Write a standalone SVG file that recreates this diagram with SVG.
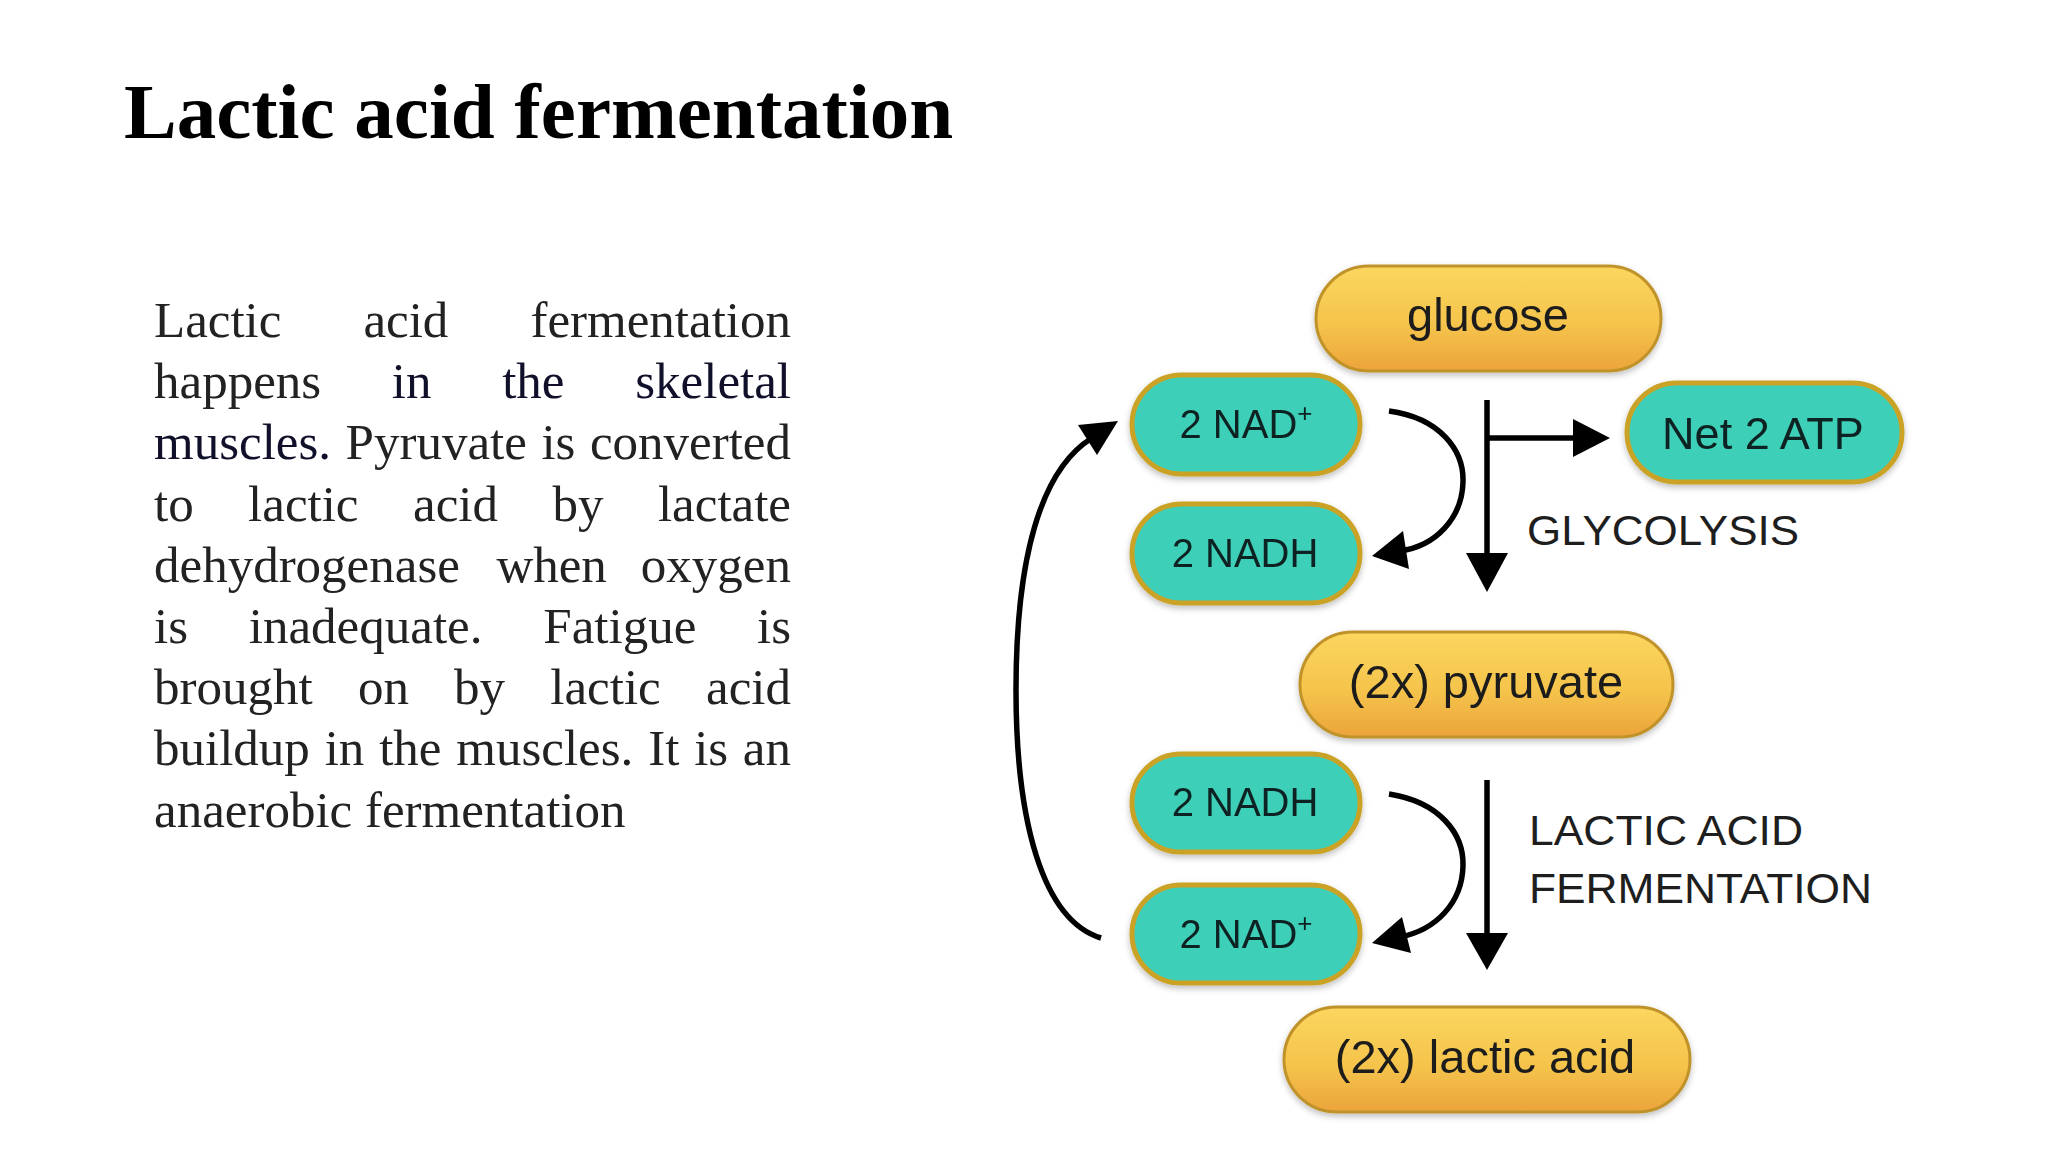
<svg xmlns="http://www.w3.org/2000/svg" width="2048" height="1152" viewBox="0 0 2048 1152">
<style>
.title{font-family:"Liberation Serif","Times New Roman",serif;font-weight:bold;font-size:79px;fill:#000}
.body{font-family:"Liberation Serif","Times New Roman",serif;font-size:51px;fill:#222}
.dk{fill:#10102a}
.gold{fill:url(#gg);stroke:#c0922a;stroke-width:3}
.teal{fill:#3ecfb7;stroke:#c9a226;stroke-width:5}
.pt{font-family:"Liberation Sans",Arial,sans-serif;font-size:47px;fill:#1a1a1a;text-anchor:middle}
.tt{font-family:"Liberation Sans",Arial,sans-serif;font-size:40px;fill:#102020;text-anchor:middle}
.atp{font-size:45px}
.sup{font-size:26px}
.lbl{font-family:"Liberation Sans",Arial,sans-serif;font-size:43px;fill:#1e1e1e}
.ln{fill:none;stroke:#000;stroke-width:5.5;stroke-linecap:butt}
.ah{fill:#000}
</style>
<defs>
<linearGradient id="gg" x1="0" y1="0" x2="0" y2="1">
<stop offset="0" stop-color="#fbd65e"/>
<stop offset="0.55" stop-color="#f5c44c"/>
<stop offset="1" stop-color="#eca43a"/>
</linearGradient>
<filter id="sh" x="-10%" y="-20%" width="120%" height="150%">
<feDropShadow dx="0" dy="3" stdDeviation="3" flood-color="#000" flood-opacity="0.25"/>
</filter>
</defs>
<rect width="2048" height="1152" fill="#fff"/>

<text class="title" x="124" y="138">Lactic acid fermentation</text>

<g id="body-text" class="body">
<text y="337"><tspan x="154">Lactic</tspan><tspan x="363.4">acid</tspan><tspan x="791" text-anchor="end">fermentation</tspan></text>
<text y="398.2"><tspan x="154">happens</tspan><tspan class="dk" x="391.8">in</tspan><tspan class="dk" x="502.2">the</tspan><tspan class="dk" x="791" text-anchor="end">skeletal</tspan></text>
<text y="459.4"><tspan class="dk" x="154">muscles.</tspan><tspan x="345.6">Pyruvate</tspan><tspan x="541.4">is</tspan><tspan x="791" text-anchor="end">converted</tspan></text>
<text y="520.6"><tspan x="154">to</tspan><tspan x="248.1">lactic</tspan><tspan x="413">acid</tspan><tspan x="552.4">by</tspan><tspan x="791" text-anchor="end">lactate</tspan></text>
<text y="581.8"><tspan x="154">dehydrogenase</tspan><tspan x="496.4">when</tspan><tspan x="791" text-anchor="end">oxygen</tspan></text>
<text y="643"><tspan x="154">is</tspan><tspan x="248.8">inadequate.</tspan><tspan x="543.3">Fatigue</tspan><tspan x="791" text-anchor="end">is</tspan></text>
<text y="704.2"><tspan x="154">brought</tspan><tspan x="357.9">on</tspan><tspan x="454.1">by</tspan><tspan x="550.3">lactic</tspan><tspan x="791" text-anchor="end">acid</tspan></text>
<text y="765.4"><tspan x="154">buildup</tspan><tspan x="324.7">in</tspan><tspan x="379.2">the</tspan><tspan x="456.3">muscles.</tspan><tspan x="648.2">It</tspan><tspan x="694.2">is</tspan><tspan x="791" text-anchor="end">an</tspan></text>
<text y="826.6" x="154">anaerobic fermentation</text>
</g>

<g id="connectors">
<line class="ln" x1="1487" y1="400" x2="1487" y2="556"/>
<polygon class="ah" points="1466,553 1508,553 1487,592"/>
<line class="ln" x1="1487" y1="438" x2="1576" y2="438"/>
<polygon class="ah" points="1573,419 1573,457 1610,438"/>
<path class="ln" d="M1389,411 C1440,418 1464,450 1463,482 C1462,518 1436,546 1400,551"/>
<polygon class="ah" points="1372,556 1403,531 1409,569"/>
<line class="ln" x1="1487" y1="780" x2="1487" y2="936"/>
<polygon class="ah" points="1466,933 1508,933 1487,970"/>
<path class="ln" d="M1389,794 C1440,802 1464,834 1463,866 C1462,903 1436,930 1400,937"/>
<polygon class="ah" points="1372,943 1402,917 1411,953"/>
<path class="ln" d="M1101,938 C1042,920 1016,820 1016,690 C1016,560 1040,470 1092,438"/>
<polygon class="ah" points="1118,421 1078,425 1097,455"/>
</g>

<g id="glucose" filter="url(#sh)">
<rect class="gold" x="1316" y="266" width="345" height="105" rx="52.5"/>
<text class="pt" x="1488" y="331">glucose</text>
</g>
<g id="nad-top" filter="url(#sh)">
<rect class="teal" x="1132" y="375" width="228" height="99" rx="49.5"/>
<text class="tt" x="1246" y="438">2 NAD<tspan class="sup" dy="-16">+</tspan></text>
</g>
<g id="nadh-top" filter="url(#sh)">
<rect class="teal" x="1132" y="504" width="228" height="99" rx="49.5"/>
<text class="tt" x="1245" y="567">2 NADH</text>
</g>
<g id="net-atp" filter="url(#sh)">
<rect class="teal" x="1627" y="383" width="275" height="99" rx="49.5"/>
<text class="tt atp" x="1763" y="449">Net 2 ATP</text>
</g>
<g id="glycolysis-label">
<text class="lbl" x="1527" y="545" textLength="272" lengthAdjust="spacingAndGlyphs">GLYCOLYSIS</text>
</g>
<g id="pyruvate" filter="url(#sh)">
<rect class="gold" x="1300" y="632" width="373" height="105" rx="52.5"/>
<text class="pt" x="1486" y="698">(2x) pyruvate</text>
</g>
<g id="nadh-bottom" filter="url(#sh)">
<rect class="teal" x="1132" y="754" width="228" height="98" rx="49"/>
<text class="tt" x="1245" y="816">2 NADH</text>
</g>
<g id="nad-bottom" filter="url(#sh)">
<rect class="teal" x="1132" y="885" width="228" height="98" rx="49"/>
<text class="tt" x="1246" y="948">2 NAD<tspan class="sup" dy="-16">+</tspan></text>
</g>
<g id="fermentation-label">
<text class="lbl" x="1529" y="845" textLength="274" lengthAdjust="spacingAndGlyphs">LACTIC ACID</text>
<text class="lbl" x="1529" y="903" textLength="343" lengthAdjust="spacingAndGlyphs">FERMENTATION</text>
</g>
<g id="lactic-acid" filter="url(#sh)">
<rect class="gold" x="1284" y="1007" width="406" height="105" rx="52.5"/>
<text class="pt" x="1485" y="1073">(2x) lactic acid</text>
</g>
</svg>
